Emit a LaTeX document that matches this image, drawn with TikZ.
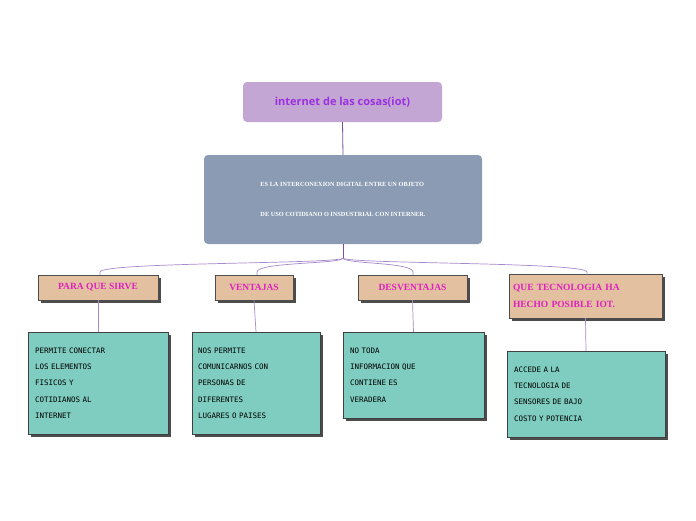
\documentclass[tikz,border=0pt]{standalone}
\usepackage{fontspec}
\setmainfont{Liberation Serif}
\newfontfamily\titlefont{Open Sans}
\newfontfamily\monof{DejaVu Sans Mono}
\definecolor{tbox}{HTML}{C3A6D4}
\definecolor{ttext}{HTML}{9B30E0}
\definecolor{mbox}{HTML}{8A9BB3}
\definecolor{hbox}{HTML}{E2C0A0}
\definecolor{htext}{HTML}{E020C0}
\definecolor{lbox}{HTML}{7FCDC0}
\definecolor{conn}{HTML}{A888CC}
\definecolor{dconn}{HTML}{7B4FA0}
\begin{document}
\begin{tikzpicture}[x=1pt,y=-1pt,
 head/.style={draw=black!70,fill=hbox,inner sep=0,text=htext,font=\bfseries\fontsize{9.5}{17}\selectfont,align=left,drop shadow/.style={}},
 leaf/.style={draw=black!75,fill=lbox,inner sep=0,font=\monof\fontsize{7.5}{16.3}\selectfont,align=left},
 shad/.style={fill=black!70},
 conn/.style={draw=conn,line width=0.7pt}]
\path[use as bounding box] (0,0) rectangle (696,520);
\fill[white] (0,0) rectangle (696,520);
% title
\node[fill=tbox,rounded corners=4pt,minimum width=199pt,minimum height=40pt,text=ttext,font=\titlefont\bfseries\fontsize{11}{13}\selectfont] (t) at (342.5,102) {internet de las cosas(iot)};
% main
\node[fill=mbox,rounded corners=4pt,minimum width=278pt,minimum height=89pt,text=white,font=\bfseries\fontsize{6.3}{30}\selectfont,align=left] (m) at (343,199.5) {ES LA INTERCONEXION DIGITAL ENTRE UN OBJETO\\DE USO COTIDIANO O INSDUSTRIAL CON INTERNER.};
\coordinate (j) at (343,258);
\draw[draw=dconn,line width=0.8pt] (t.south) -- (m.north);
\draw[draw=dconn,line width=0.8pt] (m.south) -- (j);
% headings (shadow first)
\foreach \a/\b/\c/\d in {38/275/158/300,215/275/293/300,358/275/467/300,509/274/662/318}{
 \fill[black!70] (\a+3,\b+3) rectangle (\c+3,\d+3);}
\node[head,minimum width=120pt,minimum height=25pt] (h1) at (98,287.5) {PARA QUE SIRVE};
\node[head,minimum width=78pt,minimum height=25pt] (h2) at (254,287.5) {VENTAJAS};
\node[head,minimum width=109pt,minimum height=25pt] (h3) at (412.5,287.5) {DESVENTAJAS};
\node[head,minimum width=153pt,minimum height=44pt,text width=145pt] (h4) at (585.5,296) {QUE TECNOLOGIA HA\\HECHO POSIBLE IOT.};
% leaves
\foreach \a/\b/\c/\d in {28/332/168/434,192/332/320/434,343/332/484/418,507/351/665/437}{
 \fill[black!70] (\a+3,\b+3) rectangle (\c+3,\d+3);}
\node[leaf,minimum width=140pt,minimum height=102pt,text width=126pt] (l1) at (98,383) {PERMITE CONECTAR\\LOS ELEMENTOS\\FISICOS Y\\COTIDIANOS AL\\INTERNET};
\node[leaf,minimum width=128pt,minimum height=102pt,text width=116pt] (l2) at (256,383) {NOS PERMITE\\COMUNICARNOS CON\\PERSONAS DE\\DIFERENTES\\LUGARES O PAISES};
\node[leaf,minimum width=141pt,minimum height=86pt,text width=127pt] (l3) at (413.5,375) {NO TODA\\INFORMACION QUE\\CONTIENE ES\\VERADERA};
\node[leaf,minimum width=158pt,minimum height=86pt,text width=144pt] (l4) at (586,394) {ACCEDE A LA\\TECNOLOGIA DE\\SENSORES DE BAJO\\COSTO Y POTENCIA};
% connectors
\foreach \h/\x in {h1/100,h2/257,h3/413,h4/587}{
 \draw[conn] (j) .. controls (343,264) and (\x,262) .. (\x,272) -- (\x,275);}
\foreach \n in {1,2,3,4}{\draw[conn] (h\n.south) -- (l\n.north);}
\end{tikzpicture}
\end{document}
